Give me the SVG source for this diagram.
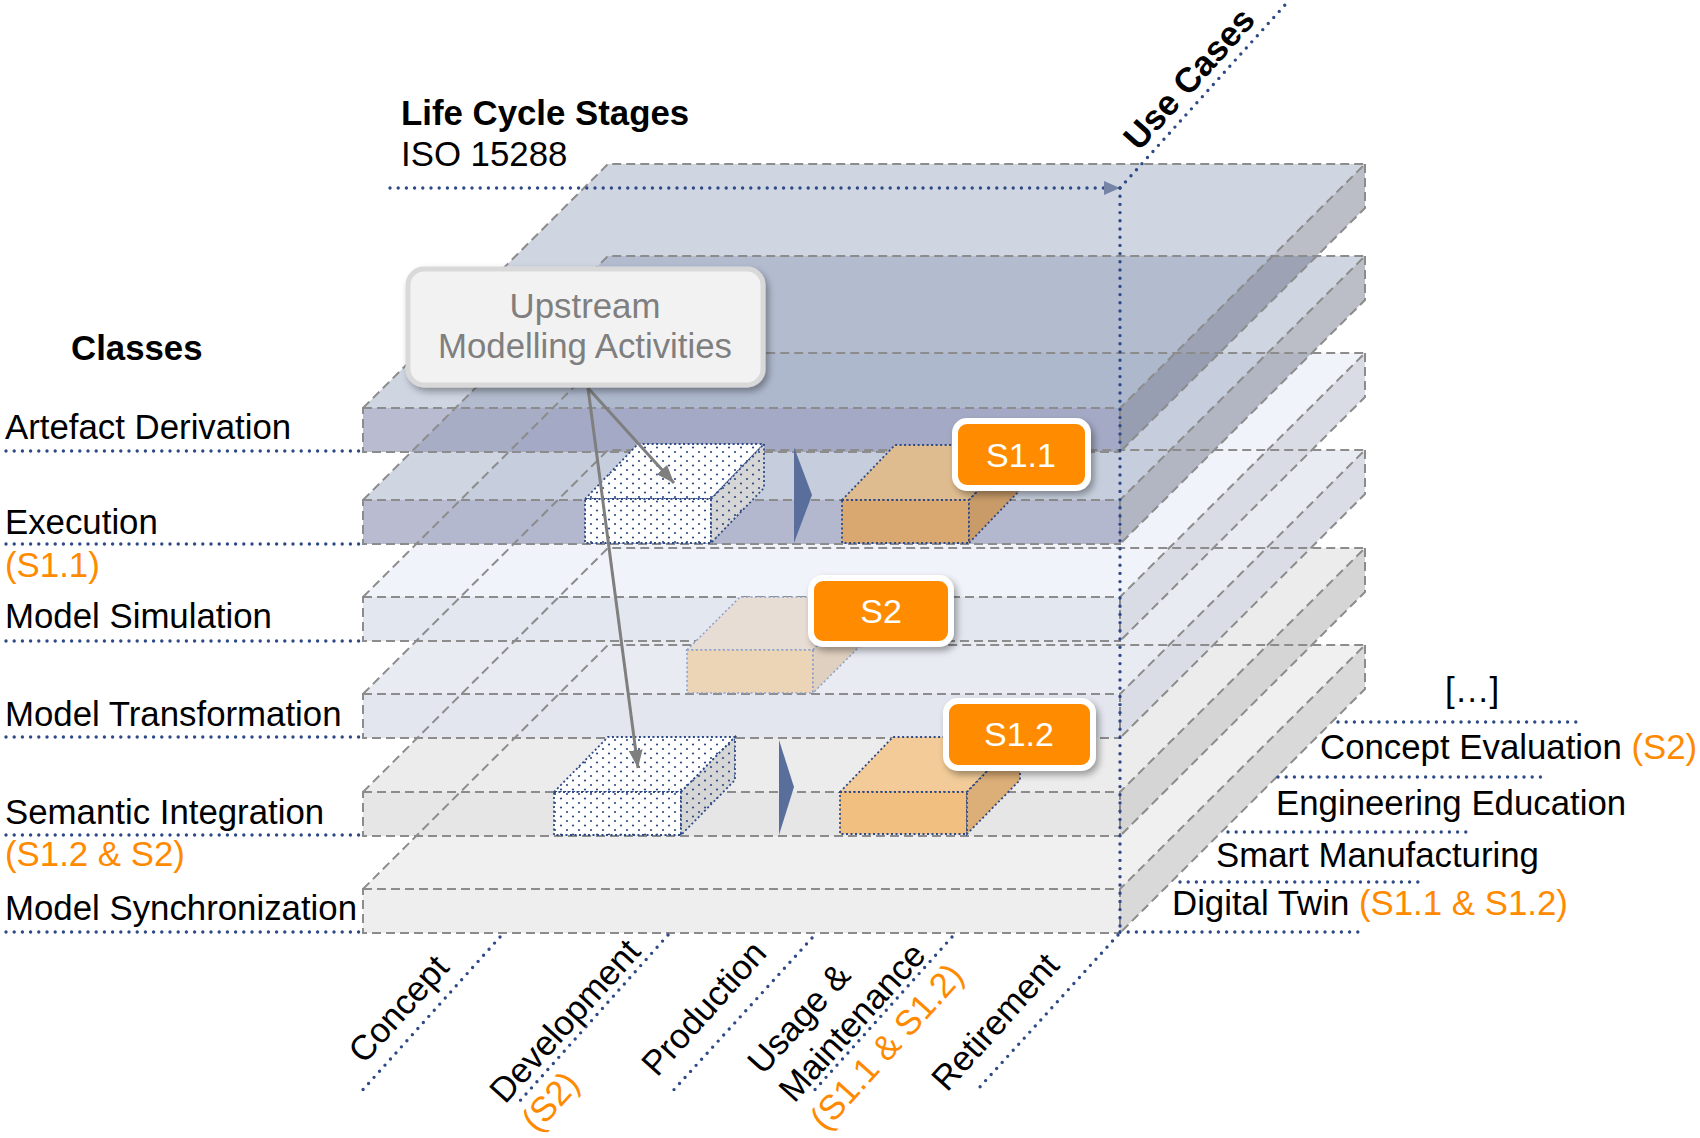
<svg xmlns="http://www.w3.org/2000/svg" width="1700" height="1138" viewBox="0 0 1700 1138">
<style>
.t{font-family:"Liberation Sans",Arial,sans-serif;font-size:34.8px;fill:#000}
.b{font-weight:bold}
.or{fill:#ff8a00}
.dot{fill:none;stroke:#2e4a86;stroke-width:3.4;stroke-linecap:round;stroke-dasharray:0 8.2}
.edge{fill:none;stroke:#8c8c8c;stroke-width:2;stroke-dasharray:9 5}
.bt{fill:rgb(141,155,184);fill-opacity:.42}
.bf{fill:rgb(145,150,183);fill-opacity:.64}
.bs{fill:rgb(70,75,100);fill-opacity:.36}
.bx{stroke:#2e4a86;stroke-width:1.8;stroke-dasharray:2 2.5}
.lab{fill:#ff8c00;stroke:#fff;stroke-width:6}
.lt{font-family:"Liberation Sans",Arial,sans-serif;font-size:34px;fill:#fff;text-anchor:middle}
.ar{fill:none;stroke:#7f7f7f;stroke-width:3}
</style>
<defs>
<pattern id="dotsW" width="12" height="9" patternUnits="userSpaceOnUse">
<rect width="12" height="9" fill="#fff"/>
<circle cx="3" cy="2" r="1.1" fill="#2e4a86"/>
<circle cx="9" cy="6.5" r="1.1" fill="#2e4a86"/>
</pattern>
<pattern id="dotsG" width="12" height="9" patternUnits="userSpaceOnUse">
<rect width="12" height="9" fill="#d6d6d6"/>
<circle cx="3" cy="2" r="1.1" fill="#2e4a86"/>
<circle cx="9" cy="6.5" r="1.1" fill="#2e4a86"/>
</pattern>
<filter id="sh" x="-20%" y="-20%" width="140%" height="150%">
<feDropShadow dx="3" dy="4" stdDeviation="3.5" flood-color="#000" flood-opacity="0.35"/>
</filter>
<marker id="ah" markerUnits="userSpaceOnUse" markerWidth="20" markerHeight="14" refX="18" refY="7" orient="auto">
<path d="M0,0 L18,7 L0,14 z" fill="#7f7f7f"/>
</marker>
</defs>

<g id="slabs">
<g id="slab6">
<polygon points="363,889 608,645 1365,645 1120,889" fill="#f0f0f0"/>
<rect x="363" y="889" width="757" height="44" fill="#eeeeee"/>
<polygon points="1120,889 1365,645 1365,689 1120,933" fill="#d9d9d9"/>
</g>
<g id="slab5">
<polygon points="363,792 608,548 1365,548 1120,792" fill="#ececec"/>
<rect x="363" y="792" width="757" height="44" fill="#e6e6e6"/>
<polygon points="1120,792 1365,548 1365,592 1120,836" fill="#d5d5d5"/>
</g>
<g id="slab4">
<polygon points="363,694 608,450 1365,450 1120,694" fill="#e8ebf2"/>
<rect x="363" y="694" width="757" height="44" fill="#e3e6ee"/>
<polygon points="1120,694 1365,450 1365,494 1120,738" fill="#dadde5"/>
</g>
<g id="slab3">
<polygon points="363,597 608,353 1365,353 1120,597" fill="#f0f3f9"/>
<rect x="363" y="597" width="757" height="44" fill="#e3e7f0"/>
<polygon points="1120,597 1365,353 1365,397 1120,641" fill="#d9dce5"/>
</g>
<g id="slab2">
<polygon class="bt" points="363,500 608,256 1365,256 1120,500"/>
<rect class="bf" x="363" y="500" width="757" height="44"/>
<polygon class="bs" points="1120,500 1365,256 1365,300 1120,544"/>
</g>
<g id="slab1">
<polygon class="bt" points="363,408 608,164 1365,164 1120,408"/>
<rect class="bf" x="363" y="408" width="757" height="44"/>
<polygon class="bs" points="1120,408 1365,164 1365,208 1120,452"/>
</g>
<g id="slab-edges" class="edge">
<path d="M363,889H1120V933H363Z M363,889L608,645H1365L1120,889 M1365,645V689L1120,933"/>
<path d="M363,792H1120V836H363Z M363,792L608,548H1365L1120,792 M1365,548V592L1120,836"/>
<path d="M363,694H1120V738H363Z M363,694L608,450H1365L1120,694 M1365,450V494L1120,738"/>
<path d="M363,597H1120V641H363Z M363,597L608,353H1365L1120,597 M1365,353V397L1120,641"/>
<path d="M363,500H1120V544H363Z M363,500L608,256H1365L1120,500 M1365,256V300L1120,544"/>
<path d="M363,408H1120V452H363Z M363,408L608,164H1365L1120,408 M1365,164V208L1120,452"/>
</g>
</g>

<g id="connectors">
<line class="dot" x1="390" y1="188" x2="1104" y2="188"/>
<polygon points="1104,181 1120,188 1104,195" fill="#7684a6"/>
<line class="dot" x1="1120" y1="188" x2="1285" y2="5"/>
<line class="dot" x1="1120" y1="188" x2="1120" y2="932"/>
<line class="dot" x1="6" y1="451" x2="362" y2="451"/>
<line class="dot" x1="6" y1="544" x2="362" y2="544"/>
<line class="dot" x1="6" y1="641" x2="362" y2="641"/>
<line class="dot" x1="6" y1="737" x2="362" y2="737"/>
<line class="dot" x1="6" y1="835" x2="362" y2="835"/>
<line class="dot" x1="6" y1="932" x2="362" y2="932"/>
<line class="dot" x1="500" y1="937" x2="360" y2="1093"/>
<line class="dot" x1="668" y1="935" x2="518" y2="1103"/>
<line class="dot" x1="812" y1="938" x2="670" y2="1094"/>
<line class="dot" x1="952" y1="937" x2="812" y2="1093"/>
<line class="dot" x1="1118" y1="935" x2="978" y2="1089"/>
<line class="dot" x1="1338" y1="722" x2="1580" y2="722"/>
<line class="dot" x1="1278" y1="777" x2="1548" y2="777"/>
<line class="dot" x1="1228" y1="832" x2="1472" y2="832"/>
<line class="dot" x1="1180" y1="882" x2="1422" y2="882"/>
<line class="dot" x1="1120" y1="932" x2="1364" y2="932"/>
</g>

<g id="boxA">
<polygon points="585,499 638,444 764,444 711,499" fill="url(#dotsW)" class="bx"/>
<rect x="585" y="499" width="126" height="44" fill="url(#dotsW)" class="bx"/>
<polygon points="711,499 764,444 764,488 711,543" fill="url(#dotsG)" class="bx"/>
</g>
<g id="boxB">
<polygon points="554,792 608,737 735,737 681,792" fill="url(#dotsW)" class="bx"/>
<rect x="554" y="792" width="127" height="43" fill="url(#dotsW)" class="bx"/>
<polygon points="681,792 735,737 735,780 681,835" fill="url(#dotsG)" class="bx"/>
</g>
<g id="boxC">
<polygon points="842,500 895,445 1022,445 969,500" fill="#dfbc8f" class="bx"/>
<rect x="842" y="500" width="127" height="43" fill="#d8a870" class="bx"/>
<polygon points="969,500 1022,445 1022,488 969,543" fill="#c89b68" class="bx"/>
</g>
<g id="boxD">
<polygon points="687,650 740,597 866,597 813,650" fill="#e8ddd5" stroke="#8aa0c8" stroke-width="1.5" stroke-dasharray="2 2.5"/>
<rect x="687" y="650" width="126" height="43" fill="#ecd4b7" stroke="#8aa0c8" stroke-width="1.5" stroke-dasharray="2 2.5"/>
<polygon points="813,650 866,597 866,640 813,693" fill="#e0d0c0" stroke="#8aa0c8" stroke-width="1.5" stroke-dasharray="2 2.5"/>
</g>
<g id="boxE">
<polygon points="840,792 893,737 1020,737 967,792" fill="#f2cb98" class="bx"/>
<rect x="840" y="792" width="127" height="42" fill="#f1bf80" class="bx"/>
<polygon points="967,792 1020,737 1020,780 967,834" fill="#dcae78" class="bx"/>
</g>

<g id="flow1"><polygon points="794,447 812,495 794,543" fill="#5a6e9c"/></g>
<g id="flow2"><polygon points="779,740 794,787 779,835" fill="#5a6e9c"/></g>

<g id="upstream-arrows">
<line class="ar" x1="588" y1="388" x2="674" y2="483" marker-end="url(#ah)"/>
<line class="ar" x1="588" y1="388" x2="638" y2="768" marker-end="url(#ah)"/>
</g>

<g id="upstream">
<rect x="408" y="269" width="355" height="116" rx="16" fill="#f2f2f2" stroke="#d9d9d9" stroke-width="5" filter="url(#sh)"/>
<text class="t" x="585" y="318" text-anchor="middle" style="fill:#7f7f7f">Upstream</text>
<text class="t" x="585" y="358" text-anchor="middle" style="fill:#7f7f7f">Modelling Activities</text>
</g>

<g id="labelS11">
<rect class="lab" x="955" y="421" width="133" height="67" rx="12" filter="url(#sh)"/>
<text class="lt" x="1021" y="467">S1.1</text>
</g>
<g id="labelS2">
<rect class="lab" x="811" y="578" width="140" height="66" rx="12" filter="url(#sh)"/>
<text class="lt" x="881" y="623">S2</text>
</g>
<g id="labelS12">
<rect class="lab" x="946" y="701" width="147" height="67" rx="12" filter="url(#sh)"/>
<text class="lt" x="1019" y="746">S1.2</text>
</g>

<g id="titles">
<text class="t b" x="401" y="125">Life Cycle Stages</text>
<text class="t" x="401" y="166">ISO 15288</text>
<text class="t b" transform="translate(1139,152) rotate(-48)">Use Cases</text>
<text class="t b" x="71" y="360">Classes</text>
</g>

<g id="classes">
<text class="t" x="5" y="439">Artefact Derivation</text>
<text class="t" x="5" y="534">Execution</text>
<text class="t or" x="5" y="577">(S1.1)</text>
<text class="t" x="5" y="628">Model Simulation</text>
<text class="t" x="5" y="726">Model Transformation</text>
<text class="t" x="5" y="824">Semantic Integration</text>
<text class="t or" x="5" y="866">(S1.2 &amp; S2)</text>
<text class="t" x="5" y="920">Model Synchronization</text>
</g>

<g id="stages">
<text class="t" transform="translate(364,1065) rotate(-48)">Concept</text>
<text class="t" transform="translate(505,1105) rotate(-48)">Development<tspan class="or" x="0" y="43">(S2)</tspan></text>
<text class="t" transform="translate(657,1078) rotate(-48)">Production</text>
<text class="t" transform="translate(763,1076) rotate(-48)">Usage &amp;<tspan x="0" y="42">Maintenance</tspan><tspan class="or" x="0" y="84">(S1.1 &amp; S1.2)</tspan></text>
<text class="t" transform="translate(947,1093) rotate(-48)">Retirement</text>
</g>

<g id="usecases">
<text class="t" x="1445" y="702">[…]</text>
<text class="t" x="1320" y="759">Concept Evaluation <tspan class="or">(S2)</tspan></text>
<text class="t" x="1276" y="815">Engineering Education</text>
<text class="t" x="1216" y="867">Smart Manufacturing</text>
<text class="t" x="1172" y="915">Digital Twin <tspan class="or">(S1.1 &amp; S1.2)</tspan></text>
</g>
</svg>
